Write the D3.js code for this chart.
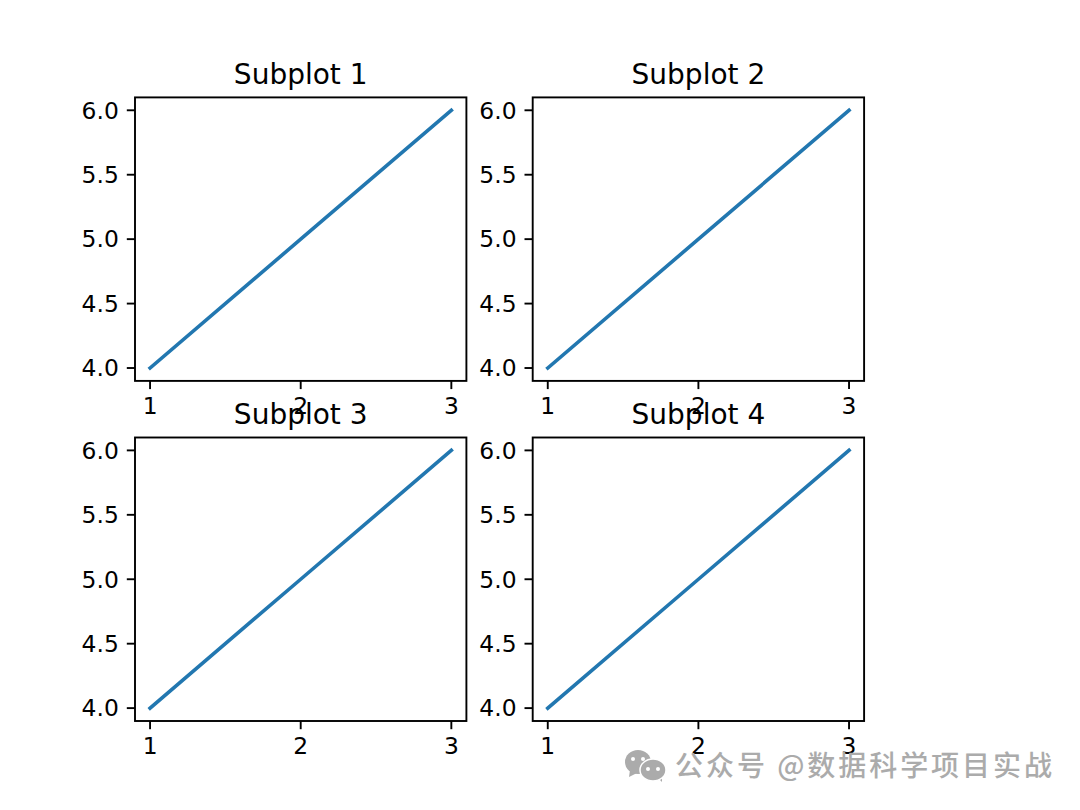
<!DOCTYPE html>
<html>
<head>
<meta charset="utf-8">
<script src="https://cdn.jsdelivr.net/npm/d3@7"></script>
<style>
    body { margin: 0; background: #fff; }
    svg { display: block; }
    text { font-family: "DejaVu Sans", sans-serif; }
</style>
</head>
<body>
<div id="chart"></div>
<script>
// Data
const titles = ['Subplot 1', 'Subplot 2', 'Subplot 3', 'Subplot 4'];
const xValues = [1, 2, 3];
const yValues = [4, 5, 6];
const xTicks = [1, 2, 3];
const yTicks = [4.0, 4.5, 5.0, 5.5, 6.0];
const watermark = '公众号 @数据科学项目实战';

const svg = d3.select('#chart')
    .append('svg')
    .attr('width', 1080)
    .attr('height', 810);

// Panel size and positions
const panelWidth = 331.4;
const panelHeight = 283.5;
const lefts = [135, 532.7];
const tops = [97.4, 437.5];

// Scales, shared by the four panels
const x = d3.scaleLinear().domain([0.9, 3.1]).range([0, panelWidth]);
const y = d3.scaleLinear().domain([3.9, 6.1]).range([panelHeight, 0]);

const line = d3.line()
    .x(d => x(d[0]))
    .y(d => y(d[1]));

titles.forEach((title, i) => {
    const g = svg.append('g')
        .attr('transform', `translate(${lefts[i % 2]},${tops[Math.floor(i / 2)]})`);

    g.append('path')
        .datum(d3.zip(xValues, yValues))
        .attr('d', line)
        .attr('fill', 'none')
        .attr('stroke', '#2277b0')
        .attr('stroke-width', 3.6)
        .attr('stroke-linecap', 'square');

    // Frame
    g.append('rect')
        .attr('width', panelWidth)
        .attr('height', panelHeight)
        .attr('fill', 'none')
        .attr('stroke', '#000')
        .attr('stroke-width', 1.9);

    // X axis
    const xAxis = g.append('g')
        .attr('transform', `translate(0,${panelHeight})`)
        .call(d3.axisBottom(x).tickValues(xTicks).tickFormat(d3.format('d')).tickSize(8.2).tickPadding(8).offset(0));

    // Y axis
    const yAxis = g.append('g')
        .call(d3.axisLeft(y).tickValues(yTicks).tickFormat(d3.format('.1f')).tickSize(8.2).tickPadding(8).offset(0));

    [xAxis, yAxis].forEach(axis => {
        axis.attr('font-family', null).attr('font-size', null);
        axis.select('.domain').remove();
        axis.selectAll('.tick line').attr('stroke-width', 1.9).attr('stroke', '#000');
        axis.selectAll('.tick text').style('font-size', '23.4px').attr('fill', '#000');
    });

    // Nudge y labels down to sit where matplotlib puts them
    yAxis.selectAll('.tick text').attr('y', 0.8);

    // Title
    g.append('text')
        .attr('x', panelWidth / 2)
        .attr('y', -13.4)
        .attr('text-anchor', 'middle')
        .style('font-size', '28px')
        .attr('fill', '#000')
        .text(title);
});

// Watermark
const mark = svg.append('g').attr('fill', '#ababab');
mark.append('path').attr('d', 'M630 770 L629 777 L637 773 Z');
mark.append('ellipse').attr('cx', 638).attr('cy', 762).attr('rx', 13).attr('ry', 12);
mark.append('path').attr('d', 'M658 778 L662 782 L662 774 Z');
mark.append('ellipse').attr('cx', 653).attr('cy', 770).attr('rx', 13).attr('ry', 11).attr('stroke', '#fff').attr('stroke-width', 1.5);
mark.selectAll('circle')
    .data([[633, 759], [643, 759], [648, 769], [658, 769]])
    .enter()
    .append('circle')
    .attr('cx', d => d[0])
    .attr('cy', d => d[1])
    .attr('r', 2)
    .attr('fill', '#fff');

svg.append('text')
    .attr('x', 675)
    .attr('y', 776)
    .style('font-family', '"Noto Sans CJK SC", sans-serif')
    .style('font-size', '28px')
    .style('font-weight', 500)
    .attr('textLength', 377)
    .attr('fill', '#ababab')
    .text(watermark);
</script>
</body>
</html>
